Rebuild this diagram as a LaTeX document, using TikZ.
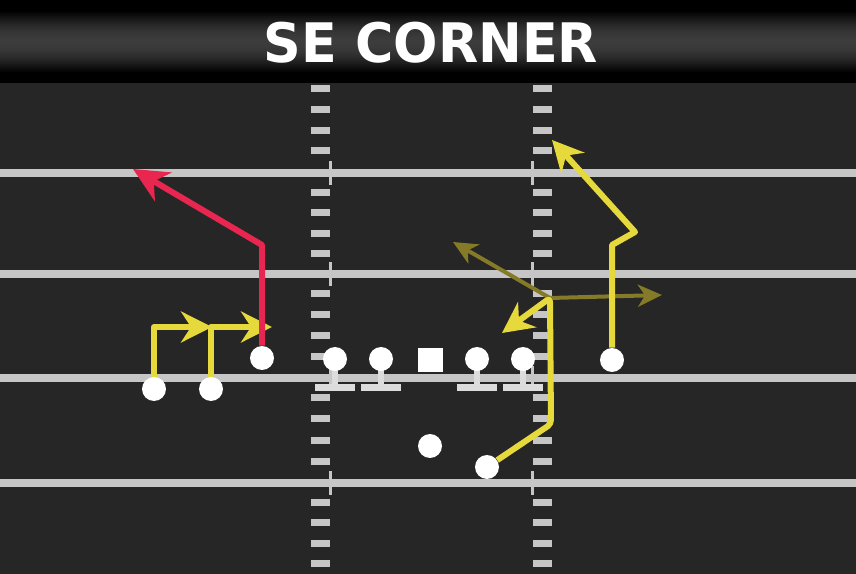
\documentclass[tikz,border=0pt]{standalone}
\usepackage{fontspec}
\newfontfamily\titlefont{DejaVu Sans}
\usetikzlibrary{arrows.meta,positioning}
\definecolor{turf}{HTML}{262626}
\definecolor{bargray}{HTML}{3C3C3C}
\definecolor{chalk}{HTML}{C6C6C6}
\definecolor{stemgray}{HTML}{DCDCDC}
\definecolor{routeyellow}{HTML}{E5D93C}
\definecolor{routered}{HTML}{E8264F}
\definecolor{readolive}{HTML}{857A28}
\tikzset{
  player/.style={circle, fill=white, inner sep=0pt, minimum size=0.48cm},
  snapper/.style={rectangle, fill=white, inner sep=0pt, minimum size=0.5cm},
  route/.style={draw=routeyellow, line width=0.12cm, line join=round,
    -{Stealth[length=0.62cm, width=0.62cm, inset=0.2cm]}},
  hotroute/.style={draw=routered, line width=0.12cm, line join=round,
    -{Stealth[length=0.7cm, width=0.66cm, inset=0.22cm]}},
  readroute/.style={draw=readolive, line width=0.08cm, line join=round,
    -{Stealth[length=0.48cm, width=0.44cm, inset=0.14cm]}},
  titletext/.style={text=white, font=\titlefont\bfseries\fontsize{31}{31}\selectfont}
}
\begin{document}
\begin{tikzpicture}[x=0.02cm,y=-0.02cm]
\useasboundingbox (0,0) rectangle (856,574);
% field and header bar
\fill[turf] (0,82) rectangle (856,574);
\fill[black] (0,0) rectangle (856,83);
\foreach \i in {0,...,31} {
  \pgfmathsetmacro\shadepct{100*sin(180*\i/31)}
  \fill[bargray!\shadepct!black] (0,10+2*\i) rectangle (856,12.2+2*\i);
}
\node[titletext] (title) at (431,43) {\scalebox{0.96}[1]{SE CORNER}};
% yard lines, ticks and hashes
\foreach \ly in {173,274,378,483} {
  \fill[chalk] (0,\ly-4) rectangle (856,\ly+4);
  \fill[chalk] (329,\ly-12) rectangle (331.5,\ly+12);
  \fill[chalk] (531,\ly-12) rectangle (533.5,\ly+12);
}
\foreach \hy in {89,110,131,151,193,213,234,254,294,315,336,357,398,419,440,461,502,522,543,563} {
  \fill[chalk] (311,\hy-3.5) rectangle (330,\hy+3.5);
  \fill[chalk] (533,\hy-3.5) rectangle (552,\hy+3.5);
}
% line stances
\foreach \px in {335,381,477,523} {
  \fill[stemgray] (\px-3,368) rectangle (\px+3,385);
  \fill[stemgray] (\px-20,384) rectangle (\px+20,391);
}
% players
\node[player] (lwr) at (154,389) {};
\node[player] (slot) at (211,389) {};
\node[player] (wing) at (262,358) {};
\node[player] (lt) at (335,359) {};
\node[player] (lg) at (381,359) {};
\node[snapper] (c) at (430,360) {};
\node[player] (rg) at (477,359) {};
\node[player] (rt) at (523,359) {};
\node[player] (qb) at (430,446) {};
\node[player] (rb) at (487,467) {};
\node[player] (se) at (612,360) {};
% route points
\coordinate (lwrend) at (212,327);
\coordinate (slotend) at (272,327);
\coordinate (wingbreak) at (262,245);
\coordinate (wingend) at (133,169);
\coordinate (sestem) at (612,245);
\coordinate (sebreak) at (635,232);
\coordinate (seend) at (552,140);
\coordinate (rbcut) at (551,424);
\coordinate (rbtop) at (550,298);
\coordinate (rbend) at (502,333);
\coordinate (readout) at (662,295);
\coordinate (readin) at (453,242);
% option reads
\draw[readroute] (rbtop) -- (readout);
\draw[readroute] (rbtop) -- (readin);
% routes
\draw[route] (lwr.north) |- (lwrend);
\draw[route] (slot.north) |- (slotend);
\draw[hotroute] (wing.north) -- (wingbreak) -- (wingend);
\draw[route] (se.north) -- (sestem) -- (sebreak) -- (seend);
\draw[route, rounded corners=0.08cm] (rb) -- (rbcut) -- (rbtop) -- (rbend);
\end{tikzpicture}
\end{document}
